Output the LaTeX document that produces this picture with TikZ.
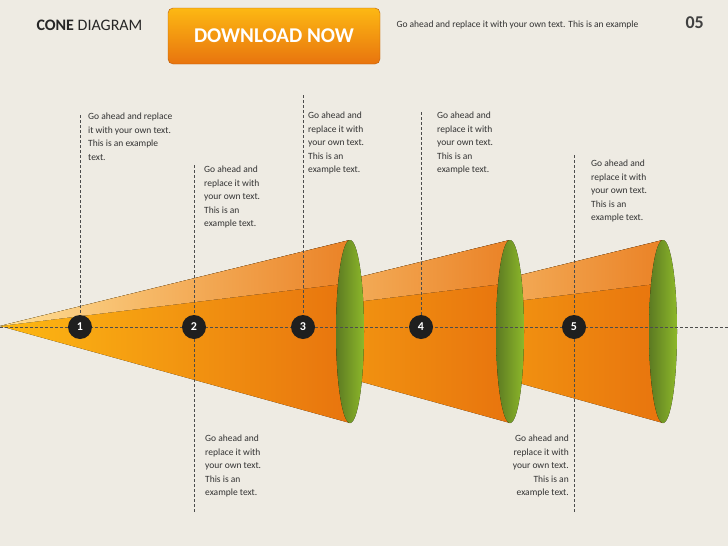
\documentclass[tikz,border=0pt]{standalone}
\usepackage{fontspec}
\setmainfont{Carlito}
\usetikzlibrary{shapes.geometric}
\definecolor{bg}{HTML}{EEEBE3}
\definecolor{oy}{HTML}{FDB813}
\definecolor{oo}{HTML}{E8740E}
\definecolor{gl}{HTML}{8DB82A}
\definecolor{gd}{HTML}{5C7A22}
\tikzset{
 txt/.style={font=\fontsize{9.5}{13.5}\selectfont, text=black!80, align=left, anchor=north west, inner sep=0pt},
 num/.style={circle, fill=black!88, minimum size=24pt, inner sep=0pt, text=white, font=\fontsize{12}{12}\selectfont\bfseries},
 dl/.style={densely dashed, black!70, line width=0.6pt},
}
\newcommand{\cone}[2]{% apex x, base x
 \fill[left color=oy, right color=oo] (#1,326) -- (#2,240) -- (#2,423) -- cycle;
 \fill[left color=oy!45!white, right color=oo!90!white] (#1,326) -- (#2,240) -- (#2,283) -- cycle;
 \fill[left color=gd, right color=gl] (#2,331.5) ellipse (14 and 91.5);
}
\begin{document}
\begin{tikzpicture}[x=1pt,y=-1pt]
\fill[bg] (0,0) rectangle (728,546);
\useasboundingbox (0,0) rectangle (728,546);
% header
\node[anchor=west, font=\fontsize{16}{16}\selectfont, text=black!85] (title) at (33,25) {\textbf{CONE} DIAGRAM};
\node[draw=oo!80!black, rounded corners=5pt, top color=oy, bottom color=oo, minimum width=212pt, minimum height=56pt, text=white, font=\fontsize{21}{21}\selectfont\bfseries] (btn) at (274,36) {DOWNLOAD NOW};
\node[anchor=west, font=\fontsize{9.5}{9.5}\selectfont, text=black!80] (hdr) at (393,25) {Go ahead and replace it with your own text. This is an example};
\node[anchor=west, font=\fontsize{18}{18}\selectfont\bfseries, text=black!75] (pg) at (682,23) {05};
% cones
\cone{313}{663}
\cone{160}{510}
\cone{0}{350}
% lines
\coordinate (l0) at (0,327); \coordinate (l1) at (728,327);
\draw[dl] (l0) -- (l1);
\node[num] (n1) at (80,327) {1};
\node[num] (n2) at (194,327) {2};
\node[num] (n3) at (303,327) {3};
\node[num] (n4) at (421,327) {4};
\node[num] (n5) at (574,327) {5};
\coordinate (t1) at (80,115); \coordinate (t2) at (194,165); \coordinate (t3) at (303,95);
\coordinate (t4) at (421,112); \coordinate (t5) at (574,155);
\coordinate (b2) at (194,512); \coordinate (b5) at (574,512);
\draw[dl] (t1) -- (n1); \draw[dl] (t2) -- (n2) -- (b2); \draw[dl] (t3) -- (n3);
\draw[dl] (t4) -- (n4); \draw[dl] (t5) -- (n5) -- (b5);
% texts
\node[txt] (x1) at (88,113) {Go ahead and replace\\it with your own text.\\This is an example\\text.};
\node[txt] (x2) at (204,166) {Go ahead and\\replace it with\\your own text.\\This is an\\example text.};
\node[txt] (x3) at (308,112) {Go ahead and\\replace it with\\your own text.\\This is an\\example text.};
\node[txt] (x4) at (437,112) {Go ahead and\\replace it with\\your own text.\\This is an\\example text.};
\node[txt] (x5) at (591,160) {Go ahead and\\replace it with\\your own text.\\This is an\\example text.};
\node[txt] (x6) at (205,435) {Go ahead and\\replace it with\\your own text.\\This is an\\example text.};
\node[txt, align=right, anchor=north east] (x7) at (569,435) {Go ahead and\\replace it with\\your own text.\\This is an\\example text.};
\end{tikzpicture}
\end{document}
